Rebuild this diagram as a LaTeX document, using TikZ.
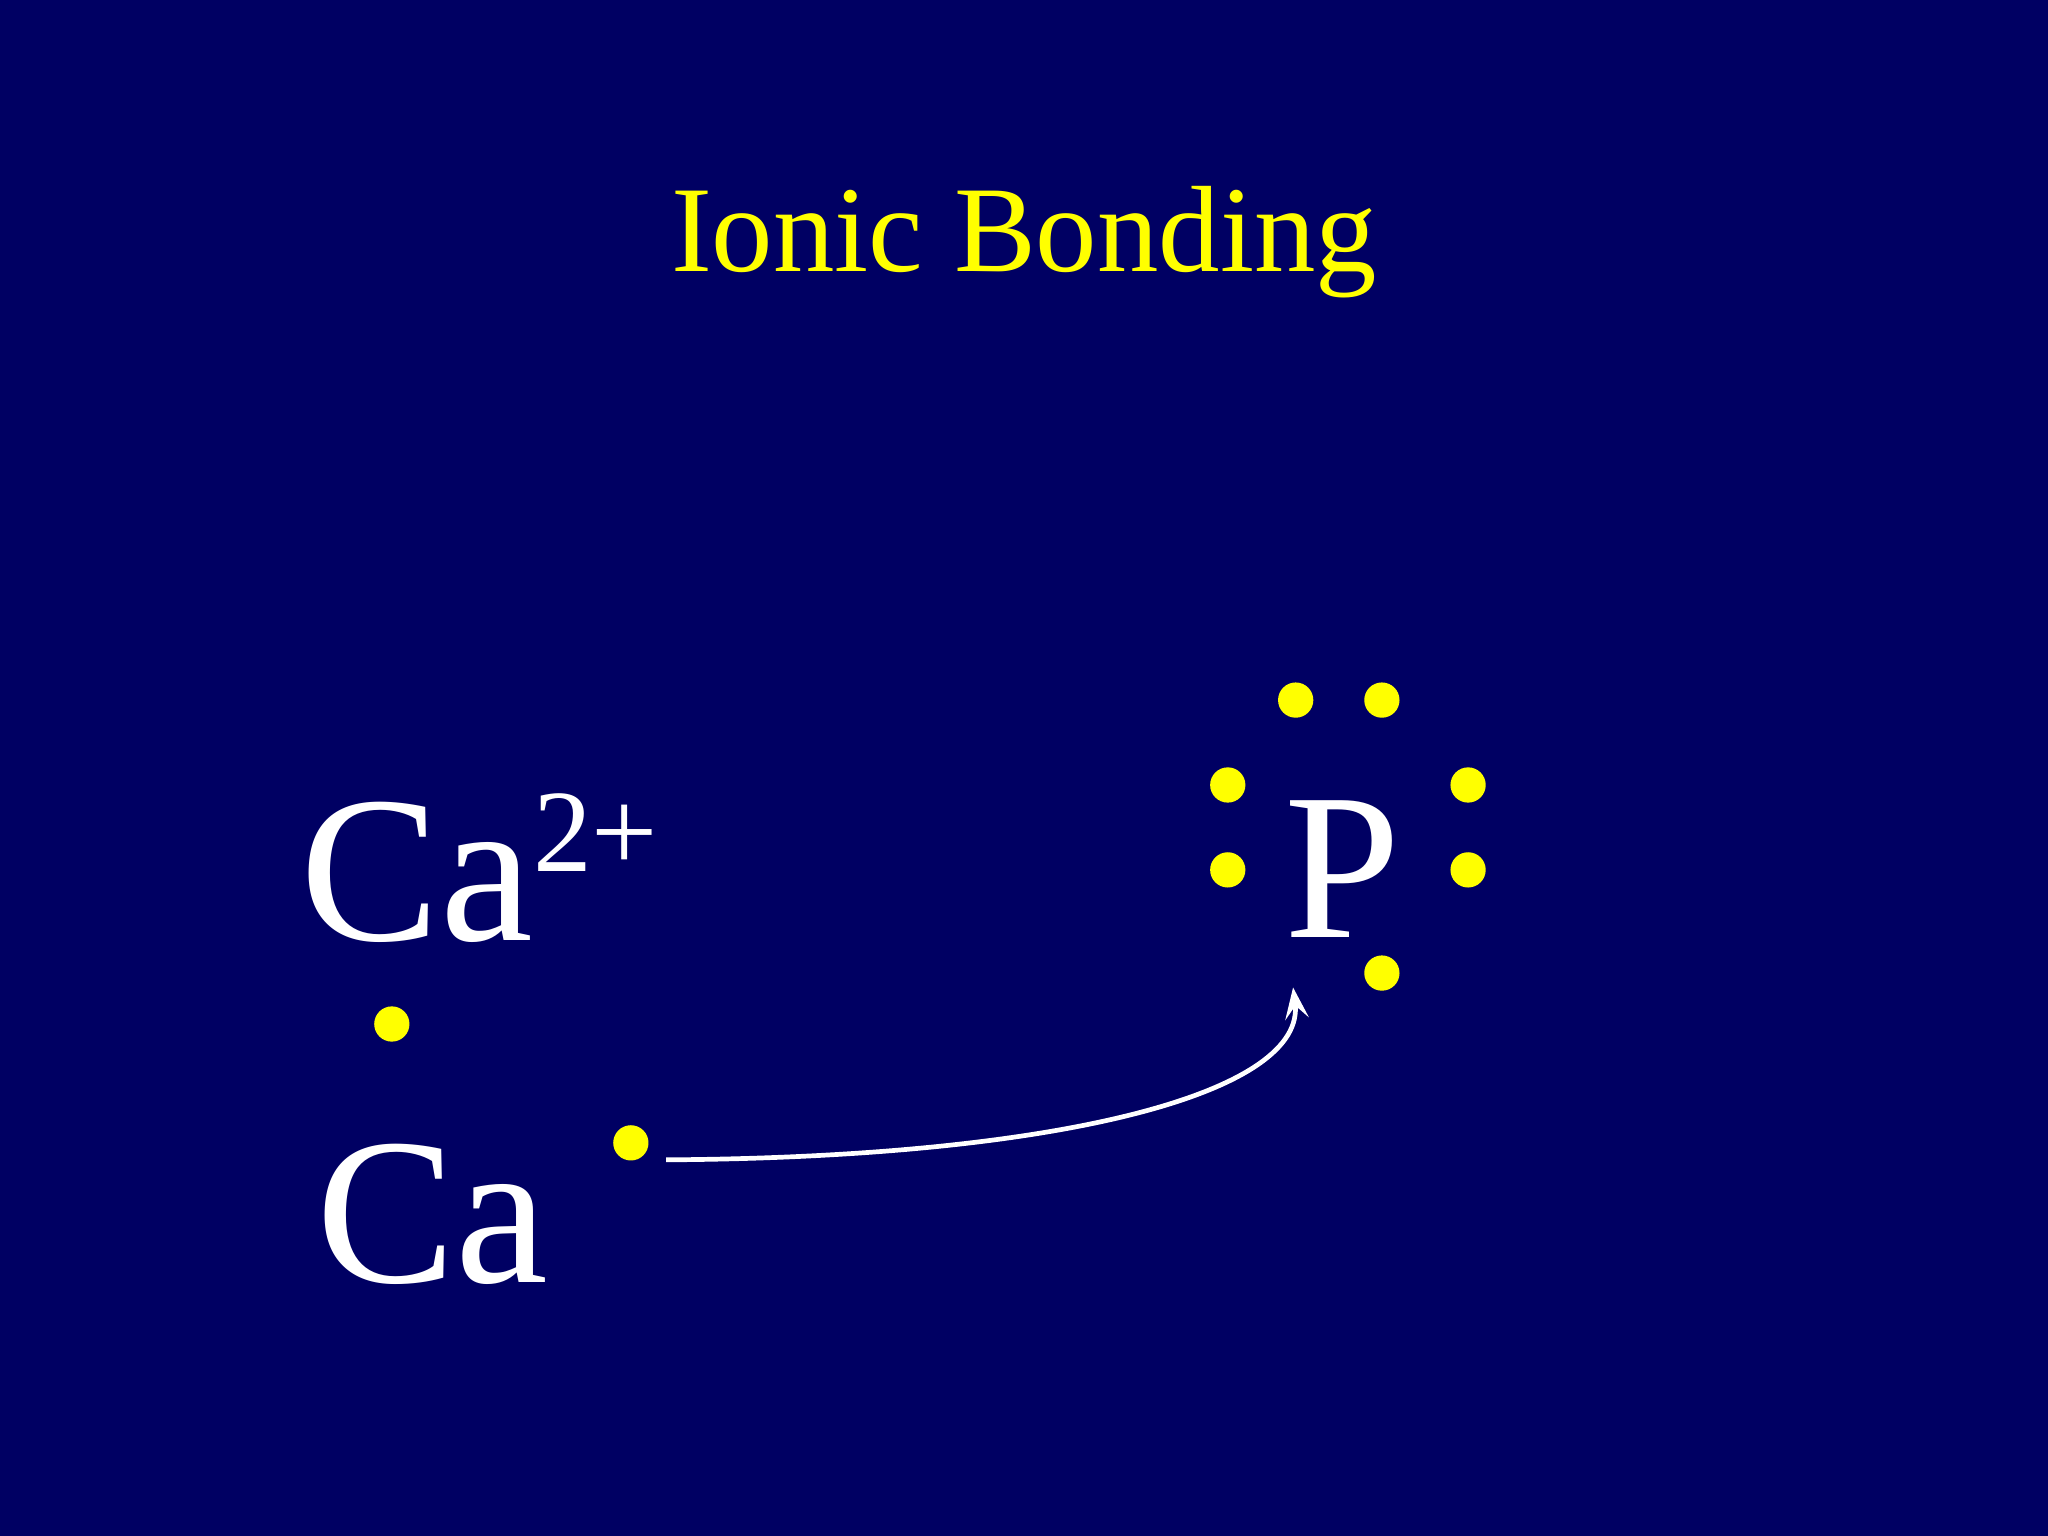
\documentclass[tikz,border=0pt]{standalone}
\usepackage{fontspec}
\setmainfont{Liberation Serif}
\usetikzlibrary{arrows.meta}
\definecolor{bg}{RGB}{0,0,99}
\definecolor{yel}{RGB}{255,255,0}
\tikzset{el/.style={circle,fill=yel,inner sep=0pt,minimum size=13.5pt},
 txt/.style={text=white,inner sep=0pt,font=\fontsize{80}{80}\selectfont}}
\begin{document}
\begin{tikzpicture}[x=0.5pt,y=-0.5pt]
\fill[bg] (0,0) rectangle (1568,1176);
\useasboundingbox (0,0) rectangle (1568,1176);
\node[text=yel,inner sep=0pt,font=\fontsize{47}{47}\selectfont,anchor=base] (t) at (784,208) {Ionic Bonding};
\node[txt,anchor=base west] (ca2) at (230,720) {Ca\raisebox{0.33em}{\fontsize{45}{45}\selectfont 2+}};
\node[txt,anchor=base west] (ca) at (242,982) {Ca};
\node[txt,anchor=base west] (p) at (983,718) {P};
\node[el] (d1) at (992,536) {};
\node[el] (d2) at (1058,536) {};
\node[el] (d3) at (940,601) {};
\node[el] (d4) at (940,666) {};
\node[el] (d5) at (1124,601) {};
\node[el] (d6) at (1124,666) {};
\node[el] (d7) at (1058,745) {};
\node[el] (d8) at (300,784) {};
\node[el] (d9) at (483,875) {};
\coordinate (s) at (510,888);
\coordinate (e) at (990,756);
\draw[white,line width=1.8pt,-{Stealth[length=12pt,width=9pt,inset=5pt]}] (s) .. controls (820,886) and (1000,835) .. (e);
\end{tikzpicture}
\end{document}
